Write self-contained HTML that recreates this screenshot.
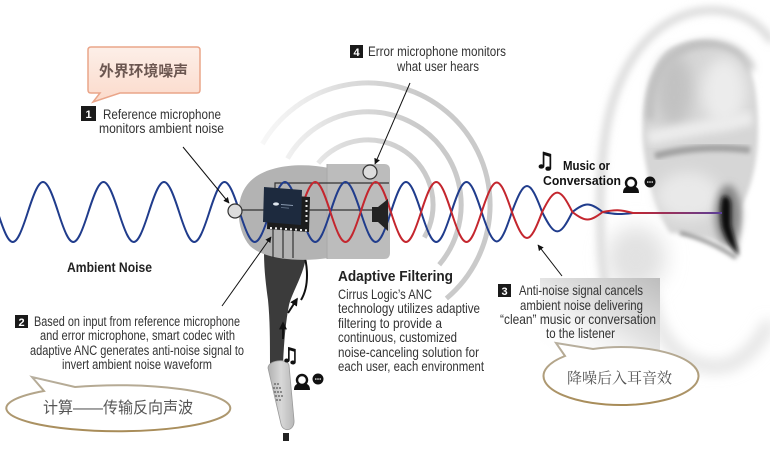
<!DOCTYPE html>
<html><head><meta charset="utf-8">
<style>
html,body{margin:0;padding:0;background:#fff;}
svg{display:block;}
text{font-family:"Liberation Sans","Noto Sans CJK SC",sans-serif;}
</style></head><body>
<svg width="770" height="450" viewBox="0 0 770 450" xmlns="http://www.w3.org/2000/svg">
<defs>
  <filter id="b2" x="-50%" y="-50%" width="200%" height="200%"><feGaussianBlur stdDeviation="2"/></filter>
  <filter id="b4" x="-50%" y="-50%" width="200%" height="200%"><feGaussianBlur stdDeviation="4"/></filter>
  <filter id="b7" x="-50%" y="-50%" width="200%" height="200%"><feGaussianBlur stdDeviation="7"/></filter>
  <filter id="b10" x="-50%" y="-50%" width="200%" height="200%"><feGaussianBlur stdDeviation="10"/></filter>
  <linearGradient id="arcg" gradientUnits="userSpaceOnUse" x1="250" y1="0" x2="420" y2="0">
    <stop offset="0" stop-color="#e6e6e6" stop-opacity="0.2"/>
    <stop offset="0.55" stop-color="#d6d6d6" stop-opacity="0.85"/>
    <stop offset="1" stop-color="#cacaca"/>
  </linearGradient>
  <linearGradient id="peach" x1="0" y1="0" x2="0" y2="1">
    <stop offset="0" stop-color="#fdefe8"/>
    <stop offset="1" stop-color="#fbdacb"/>
  </linearGradient>
  <linearGradient id="boxg" x1="0" y1="1" x2="1" y2="0">
    <stop offset="0" stop-color="#ffffff" stop-opacity="0"/>
    <stop offset="0.5" stop-color="#e4e4e4"/>
    <stop offset="1" stop-color="#bdbdbd"/>
  </linearGradient>
  <linearGradient id="lineg" gradientUnits="userSpaceOnUse" x1="630" y1="0" x2="722" y2="0">
    <stop offset="0" stop-color="#c4262e"/>
    <stop offset="1" stop-color="#5a3f9a"/>
  </linearGradient>
  <linearGradient id="callg" x1="0" y1="0" x2="0" y2="1">
    <stop offset="0" stop-color="#b8b0a0"/>
    <stop offset="1" stop-color="#a88c58"/>
  </linearGradient>
  <linearGradient id="houseg" x1="0" y1="0" x2="1" y2="0">
    <stop offset="0" stop-color="#b0b0b0"/>
    <stop offset="0.5" stop-color="#d8d8d8"/>
    <stop offset="1" stop-color="#b8b8b8"/>
  </linearGradient>
  <marker id="ar" viewBox="0 0 10 10" refX="9" refY="5" markerWidth="6" markerHeight="6" orient="auto" markerUnits="userSpaceOnUse">
    <path d="M0,0 L10,5 L0,10 z" fill="#111"/>
  </marker>
  <marker id="ar2" viewBox="0 0 10 10" refX="8" refY="5" markerWidth="8" markerHeight="8" orient="auto" markerUnits="userSpaceOnUse">
    <path d="M0,0 L10,5 L0,10 z" fill="#111"/>
  </marker>
</defs>
<rect width="770" height="450" fill="#fff"/>

<!-- ===== EAR ===== -->
<g>
  <path d="M606 290 C598 240 598 170 608 120 C620 65 650 22 695 12 C730 5 758 20 772 42" fill="none" stroke="#d6d6d6" stroke-width="7" filter="url(#b4)"/>
  <ellipse cx="636" cy="258" rx="30" ry="32" fill="#e2e2e2" filter="url(#b10)"/>
  <path d="M650 292 C655 345 690 372 725 366 C745 361 760 342 770 322" fill="none" stroke="#dadada" stroke-width="10" filter="url(#b7)"/>
  <!-- inner region -->
  <path d="M645 160 C638 120 645 70 668 50 C685 38 715 36 737 50 C752 62 758 90 758 130 C758 165 750 190 742 205 L740 252 C725 242 700 234 670 233 C658 215 650 190 645 160 Z" fill="#d6d6d6" filter="url(#b2)"/>
  <path d="M650 120 C648 80 665 50 700 44 C725 40 745 52 752 70" fill="none" stroke="#b4b4b4" stroke-width="6" filter="url(#b4)"/>
  <ellipse cx="674" cy="90" rx="18" ry="36" fill="#c2c2c2" filter="url(#b7)"/>
  <ellipse cx="724" cy="92" rx="22" ry="34" fill="#ececec" filter="url(#b7)"/>
  <path d="M648 138 L752 118" stroke="#ececec" stroke-width="14" fill="none" filter="url(#b4)"/>
  <path d="M655 156 Q700 144 750 150" stroke="#a2a2a2" stroke-width="7" fill="none" filter="url(#b2)"/>
  <ellipse cx="688" cy="196" rx="32" ry="24" fill="#e9e9e9" filter="url(#b7)"/>
  <ellipse cx="728" cy="215" rx="13" ry="30" fill="#858585" filter="url(#b4)"/>
  <path d="M722 198 C726 193 731 198 731 205 L731 225 C733 235 737 245 739 256 C732 250 726 240 722 228 C720 218 720 205 722 198 Z" fill="#111" filter="url(#b2)"/>
  <path d="M680 233 Q710 240 736 258" stroke="#7a7a7a" stroke-width="3" fill="none" filter="url(#b2)"/>
</g>

<!-- grey gradient box behind item 3 -->
<rect x="540" y="278" width="120" height="72" fill="url(#boxg)"/>

<!-- ===== sound arcs ===== -->
<g fill="none" stroke="url(#arcg)" stroke-width="5">
  <path d="M262.4 144 A122 122 0 1 1 446.4 298.5"/>
  <path d="M287.5 158.5 A93 93 0 1 1 439.2 264.8"/>
  <path d="M318.2 163.2 A65 65 0 0 1 424.3 237.5"/>
</g>

<!-- ===== cable ===== -->
<path d="M264 252 L307 252 C304 275 293 290 289 305 C286 320 284 340 283 364 L270 364 C270 340 270 320 268 300 C266 285 264 270 264 252 Z" fill="#3b3b3b"/>
<path d="M268 368 C268 360 287 358 289 365 L294 420 C295 431 283 433 281 424 Z" fill="url(#houseg)" stroke="#9a9a9a" stroke-width="0.8"/>
<g fill="#555">
  <circle cx="275" cy="384" r="0.9"/><circle cx="278" cy="384" r="0.9"/>
  <circle cx="274" cy="388" r="0.9"/><circle cx="277" cy="388" r="0.9"/><circle cx="280" cy="388" r="0.9"/>
  <circle cx="275" cy="392" r="0.9"/><circle cx="278" cy="392" r="0.9"/><circle cx="281" cy="392" r="0.9"/>
  <circle cx="276" cy="396" r="0.9"/><circle cx="279" cy="396" r="0.9"/><circle cx="282" cy="396" r="0.9"/>
  <circle cx="277" cy="400" r="0.9"/><circle cx="280" cy="400" r="0.9"/>
</g>
<rect x="283" y="433" width="6" height="8" fill="#222"/>

<!-- cable arrows -->
<g stroke="#111" stroke-width="2" fill="none">
  <path d="M301 300 C310 285 309 258 297 239" marker-end="url(#ar2)"/>
  <path d="M288 313 L297 299" marker-end="url(#ar2)"/>
  <path d="M283 339 L283 323" marker-end="url(#ar2)"/>
</g>

<!-- ===== earbud body ===== -->
<path d="M329 168 C300 162 262 165 247 185 C235 200 236 230 250 246 C265 260 300 262 329 258 Z" fill="#b3b3b3"/>
<path d="M327 164 L384 164 Q390 164 390 170 L390 253 Q390 259 384 259 L327 259 Z" fill="#bcbcbc"/>
<line x1="327" y1="164" x2="327" y2="259" stroke="#a8a8a8" stroke-width="1"/>

<!-- wires -->
<g stroke="#333" stroke-width="1.2" fill="none">
  <path d="M275 192 L275 183 L389 183"/>
  <path d="M236 210 L373 210"/>
  <path d="M273 226 L273 258 M283 226 L283 258 M293 226 L293 258"/>
</g>

<!-- ===== waves ===== -->
<path d="M -2.375 212 c 12.84 40 17.41 40 30.25 0 s 17.41 -40 30.25 0 s 17.41 40 30.25 0 s 17.41 -40 30.25 0 s 17.41 40 30.25 0 s 17.41 -40 30.25 0 s 17.41 40 30.25 0 s 17.41 -40 30.25 0 s 17.41 40 30.25 0 s 17.41 -40 30.25 0 s 17.41 40 30.25 0 s 17.41 -40 30.25 0 s 17.41 40 30.25 0 s 17.41 -40 30.25 0 s 17.41 40 30.25 0 s 17.41 -40 30.25 0 c 12.84 39.3 17.41 39.3 30.25 0 c 12.84 -34.7 17.41 -34.7 30.25 0 c 12.84 25.9 17.41 25.9 30.25 0 c 12.84 -10 17.41 -10 30.25 0 c 12.84 2.5 17.41 2.5 30.25 1" fill="none" stroke="#203c8c" stroke-width="2"/>
<path d="M 300.125 212 c 12.84 -40 17.41 -40 30.25 0 s 17.41 40 30.25 0 s 17.41 -40 30.25 0 s 17.41 40 30.25 0 s 17.41 -40 30.25 0 s 17.41 40 30.25 0 c 12.84 -39.3 17.41 -39.3 30.25 0 c 12.84 34.7 17.41 34.7 30.25 0 c 12.84 -25.9 17.41 -25.9 30.25 0 c 12.84 10 17.41 10 30.25 0 c 12.84 -2.5 17.41 -2.5 30.25 1" fill="none" stroke="#c4262e" stroke-width="2"/>
<line x1="632" y1="213" x2="722" y2="213" stroke="url(#lineg)" stroke-width="2"/>

<!-- ===== chip ===== -->
<polygon points="268,194 310,197 309,232 267,229" fill="#1c1c1c"/>
<g fill="#e8e8e8">
  <rect x="270" y="227" width="2" height="2"/><rect x="275" y="227.3" width="2" height="2"/><rect x="280" y="227.6" width="2" height="2"/><rect x="285" y="228" width="2" height="2"/><rect x="290" y="228.3" width="2" height="2"/><rect x="295" y="228.6" width="2" height="2"/><rect x="300" y="229" width="2" height="2"/><rect x="305" y="229.3" width="2" height="2"/>
  <rect x="305.5" y="200" width="2" height="2"/><rect x="305.5" y="205" width="2" height="2"/><rect x="305.5" y="210" width="2" height="2"/><rect x="305.5" y="215" width="2" height="2"/><rect x="305.5" y="220" width="2" height="2"/>
</g>
<polygon points="264,187 302,190 301,225 263,222" fill="#1d2a3e"/>
<ellipse cx="276" cy="204" rx="3" ry="1.6" fill="#dfe6ee"/>
<line x1="281" y1="204.5" x2="293" y2="205.5" stroke="#8a9ab0" stroke-width="1"/>
<line x1="281" y1="207.5" x2="289" y2="208.2" stroke="#6a7a90" stroke-width="0.8"/>

<!-- speaker -->
<rect x="372" y="207" width="6" height="15" fill="#222"/>
<polygon points="378,207 388,199 388,231 378,222" fill="#222"/>

<!-- mics -->
<circle cx="235" cy="211" r="7" fill="#dcdcdc" stroke="#333" stroke-width="1.2"/>
<circle cx="370" cy="172" r="7" fill="#dcdcdc" stroke="#333" stroke-width="1.2"/>

<!-- ===== connectors ===== -->
<g stroke="#111" stroke-width="1" fill="none">
  <line x1="183" y1="147" x2="229" y2="203" marker-end="url(#ar)"/>
  <line x1="410" y1="83" x2="375" y2="164" marker-end="url(#ar)"/>
  <line x1="222" y1="306" x2="271" y2="237" marker-end="url(#ar)"/>
  <line x1="562" y1="276" x2="538" y2="245" marker-end="url(#ar)"/>
</g>

<!-- ===== icons ===== -->
<text x="535" y="168" font-size="22" fill="#111" stroke="#111" stroke-width="0.9" style="font-family:'DejaVu Sans',sans-serif">♫</text>
<text x="281" y="362" font-size="20" fill="#111" stroke="#111" stroke-width="0.9" style="font-family:'DejaVu Sans',sans-serif">♫</text>
<g transform="translate(631,183)">
  <path d="M-8 10 C-8 4 -4 3 0 3.5 C4 3 8 4 8 10 Z" fill="#111"/>
  <circle r="5" fill="#fff" stroke="#111" stroke-width="2.4"/>
  <circle cx="19" cy="-1" r="5.5" fill="#111"/>
  <circle cx="16.8" cy="-1" r="0.8" fill="#fff"/><circle cx="19" cy="-1" r="0.8" fill="#fff"/><circle cx="21.2" cy="-1" r="0.8" fill="#fff"/>
</g>
<g transform="translate(302,380)">
  <path d="M-8 10 C-8 4 -4 3 0 3.5 C4 3 8 4 8 10 Z" fill="#111"/>
  <circle r="5" fill="#fff" stroke="#111" stroke-width="2.4"/>
  <circle cx="16" cy="-1" r="5.5" fill="#111"/>
  <circle cx="13.8" cy="-1" r="0.8" fill="#fff"/><circle cx="16" cy="-1" r="0.8" fill="#fff"/><circle cx="18.2" cy="-1" r="0.8" fill="#fff"/>
</g>

<!-- ===== callouts ===== -->
<path d="M91 47 L197 47 Q200 47 200 50 L200 90 Q200 93 197 93 L120 93 L93 102 L100 93 L91 93 Q88 93 88 90 L88 50 Q88 47 91 47 Z" fill="url(#peach)" stroke="#eaa589" stroke-width="1.5"/>
<text x="99" y="76" font-size="15" font-weight="bold" fill="#6b5650" textLength="89" lengthAdjust="spacingAndGlyphs">外界环境噪声</text>

<path d="M44 391 L32 377 L75 387 A112 23 0 1 1 44 391 Z" fill="#fff" stroke="url(#callg)" stroke-width="2"/>
<text x="43" y="413" font-size="16" fill="#555" textLength="150" lengthAdjust="spacingAndGlyphs">计算——传输反向声波</text>

<path d="M565 356 L556 343 L593 349 A77.5 29 0 1 1 565 356 Z" fill="#fff" stroke="url(#callg)" stroke-width="2"/>
<text x="567" y="383" font-size="15" fill="#555" textLength="105" lengthAdjust="spacingAndGlyphs" style="font-family:'Liberation Serif','Noto Serif CJK SC',serif">降噪后入耳音效</text>

<!-- ===== number boxes ===== -->
<g font-weight="bold" font-size="11" fill="#fff" text-anchor="middle">
  <rect x="81" y="106" width="15" height="15" fill="#1a1a1a"/><text x="88.5" y="118" fill="#fff">1</text>
  <rect x="350" y="45" width="13" height="13" fill="#1a1a1a"/><text x="356.5" y="56" fill="#fff">4</text>
  <rect x="15" y="315" width="13" height="13" fill="#1a1a1a"/><text x="21.5" y="326" fill="#fff">2</text>
  <rect x="498" y="284" width="13" height="13" fill="#1a1a1a"/><text x="504.5" y="295" fill="#fff">3</text>
</g>

<!-- ===== text ===== -->
<g font-size="14" fill="#333">
  <text x="103" y="119" textLength="118" lengthAdjust="spacingAndGlyphs">Reference microphone</text>
  <text x="99" y="133" textLength="125" lengthAdjust="spacingAndGlyphs">monitors ambient noise</text>

  <text x="368" y="56" font-size="13.5" textLength="138" lengthAdjust="spacingAndGlyphs">Error microphone monitors</text>
  <text x="397" y="71" font-size="13.5" textLength="82" lengthAdjust="spacingAndGlyphs">what user hears</text>

  <text x="34" y="326" font-size="13.5" textLength="206" lengthAdjust="spacingAndGlyphs">Based on input from reference microphone</text>
  <text x="40" y="340" font-size="13.5" textLength="195" lengthAdjust="spacingAndGlyphs">and error microphone, smart codec with</text>
  <text x="30" y="355" font-size="13.5" textLength="214" lengthAdjust="spacingAndGlyphs">adaptive ANC generates anti-noise signal to</text>
  <text x="62" y="369" font-size="13.5" textLength="150" lengthAdjust="spacingAndGlyphs">invert ambient noise waveform</text>

  <text x="519" y="295" textLength="124" lengthAdjust="spacingAndGlyphs">Anti-noise signal cancels</text>
  <text x="520" y="310" textLength="123" lengthAdjust="spacingAndGlyphs">ambient noise delivering</text>
  <text x="500" y="324" textLength="156" lengthAdjust="spacingAndGlyphs">“clean” music or conversation</text>
  <text x="546" y="338" textLength="69" lengthAdjust="spacingAndGlyphs">to the listener</text>

  <text x="338" y="299" textLength="94" lengthAdjust="spacingAndGlyphs">Cirrus Logic’s ANC</text>
  <text x="338" y="313" textLength="142" lengthAdjust="spacingAndGlyphs">technology utilizes adaptive</text>
  <text x="338" y="328" textLength="104" lengthAdjust="spacingAndGlyphs">filtering to provide a</text>
  <text x="338" y="342" textLength="119" lengthAdjust="spacingAndGlyphs">continuous, customized</text>
  <text x="338" y="357" textLength="141" lengthAdjust="spacingAndGlyphs">noise-canceling solution for</text>
  <text x="338" y="371" textLength="146" lengthAdjust="spacingAndGlyphs">each user, each environment</text>
</g>
<g font-weight="bold" fill="#222">
  <text x="338" y="281" font-size="15" textLength="115" lengthAdjust="spacingAndGlyphs">Adaptive Filtering</text>
  <text x="67" y="272" font-size="14" textLength="85" lengthAdjust="spacingAndGlyphs">Ambient Noise</text>
  <text x="563" y="170" font-size="12.5" fill="#111" textLength="47" lengthAdjust="spacingAndGlyphs">Music or</text>
  <text x="543" y="185" font-size="12.5" fill="#111" textLength="78" lengthAdjust="spacingAndGlyphs">Conversation</text>
</g>
</svg>
</body></html>
